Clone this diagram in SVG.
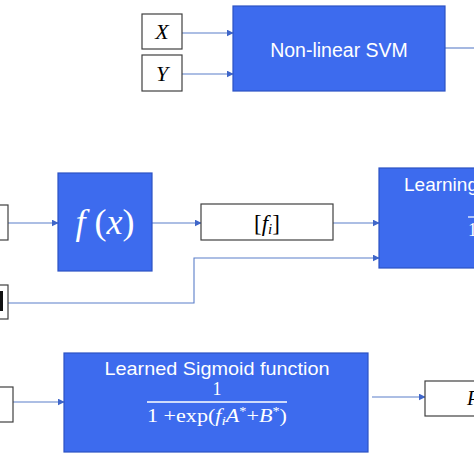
<svg xmlns="http://www.w3.org/2000/svg" width="474" height="474" viewBox="0 0 474 474">
<defs>
<style>
.wbox{fill:#ffffff;stroke:#404040;stroke-width:1.2}
.bbox{fill:#3d6bee;stroke:#2c52c4;stroke-width:1.2}
.conn{fill:none;stroke:#5b7fc9;stroke-width:1.1}
.sans{font-family:"Liberation Sans","Open Sans",sans-serif;fill:#ffffff}
.math{font-family:"Liberation Serif","DejaVu Serif",serif}
</style>
<marker id="ah" viewBox="0 0 10 10" refX="9" refY="5" markerWidth="7" markerHeight="7" orient="auto" markerUnits="userSpaceOnUse">
<path d="M0,0 L10,5 L0,10 z" fill="#3f66c9"/>
</marker>
</defs>
<rect width="474" height="474" fill="#ffffff"/>

<g id="connectors">
<line class="conn" x1="182" y1="33" x2="233" y2="33" marker-end="url(#ah)"/>
<line class="conn" x1="182" y1="74" x2="233" y2="74" marker-end="url(#ah)"/>
<line class="conn" x1="445" y1="48" x2="474" y2="48"/>
<line class="conn" x1="8" y1="223" x2="58" y2="223" marker-end="url(#ah)"/>
<line class="conn" x1="152" y1="223" x2="201" y2="223" marker-end="url(#ah)"/>
<line class="conn" x1="333" y1="223" x2="379" y2="223" marker-end="url(#ah)"/>
<polyline class="conn" points="8,303 194,303 194,258 379,258" marker-end="url(#ah)"/>
<line class="conn" x1="13" y1="402" x2="64" y2="402" marker-end="url(#ah)"/>
<line class="conn" x1="372" y1="397" x2="425" y2="397" marker-end="url(#ah)"/>
</g>

<g id="node-x">
<rect class="wbox" x="142" y="14" width="40" height="35"/>
<text class="math" x="162" y="39" font-size="22" font-style="italic" text-anchor="middle">X</text>
</g>
<g id="node-y">
<rect class="wbox" x="142" y="55" width="40" height="36"/>
<text class="math" x="162" y="81" font-size="22" font-style="italic" text-anchor="middle">Y</text>
</g>
<g id="node-svm">
<rect class="bbox" x="233" y="6" width="212" height="85"/>
<text class="sans" x="339" y="57" font-size="19.5" text-anchor="middle">Non-linear SVM</text>
</g>

<g id="node-left1">
<rect class="wbox" x="-2" y="205" width="10" height="35"/>
</g>
<g id="node-fx">
<rect class="bbox" x="58" y="173" width="94" height="98"/>
<text class="math" x="105" y="234" font-size="36" fill="#ffffff" text-anchor="middle"><tspan font-style="italic">f</tspan> (<tspan font-style="italic">x</tspan>)</text>
</g>
<g id="node-fi">
<rect class="wbox" x="201" y="204" width="132" height="36"/>
<text class="math" x="267" y="231" font-size="23" text-anchor="middle">[<tspan font-style="italic">f</tspan><tspan font-style="italic" font-size="15" dy="3">i</tspan><tspan dy="-3">]</tspan></text>
</g>
<g id="node-left2">
<rect class="wbox" x="-2" y="285" width="10" height="34"/>
<rect x="0" y="291" width="3" height="20" fill="#111111"/>
</g>
<g id="node-learning">
<rect class="bbox" x="379" y="168" width="100" height="100"/>
<text class="sans" x="404" y="191" font-size="19">Learning</text>
<line x1="468" y1="217" x2="476" y2="217" stroke="#ffffff" stroke-width="1.2"/>
<text class="math" x="468" y="236" font-size="18" fill="#ffffff">1</text>
</g>

<g id="node-left3">
<rect class="wbox" x="-2" y="387" width="15" height="35"/>
</g>
<g id="node-sigmoid">
<rect class="bbox" x="64" y="353" width="304" height="99"/>
<text class="sans" x="217" y="375" font-size="18.5" text-anchor="middle" textLength="225" lengthAdjust="spacingAndGlyphs">Learned Sigmoid function</text>
<text class="math" x="217" y="395" font-size="18" fill="#ffffff" text-anchor="middle">1</text>
<line x1="147" y1="402" x2="287" y2="402" stroke="#ffffff" stroke-width="1.3"/>
<text class="math" x="147" y="422" font-size="18.5" fill="#ffffff" textLength="140" lengthAdjust="spacingAndGlyphs">1 +exp(<tspan font-style="italic">f</tspan><tspan font-style="italic" font-size="13" dy="3">i</tspan><tspan font-style="italic" dy="-3">A</tspan><tspan font-size="12" dy="-7">*</tspan><tspan dy="7">+</tspan><tspan font-style="italic">B</tspan><tspan font-size="12" dy="-7">*</tspan><tspan dy="7">)</tspan></text>
</g>
<g id="node-right">
<rect class="wbox" x="425" y="381" width="55" height="35"/>
<text class="math" x="467" y="405" font-size="20" font-style="italic">P</text>
</g>
</svg>
